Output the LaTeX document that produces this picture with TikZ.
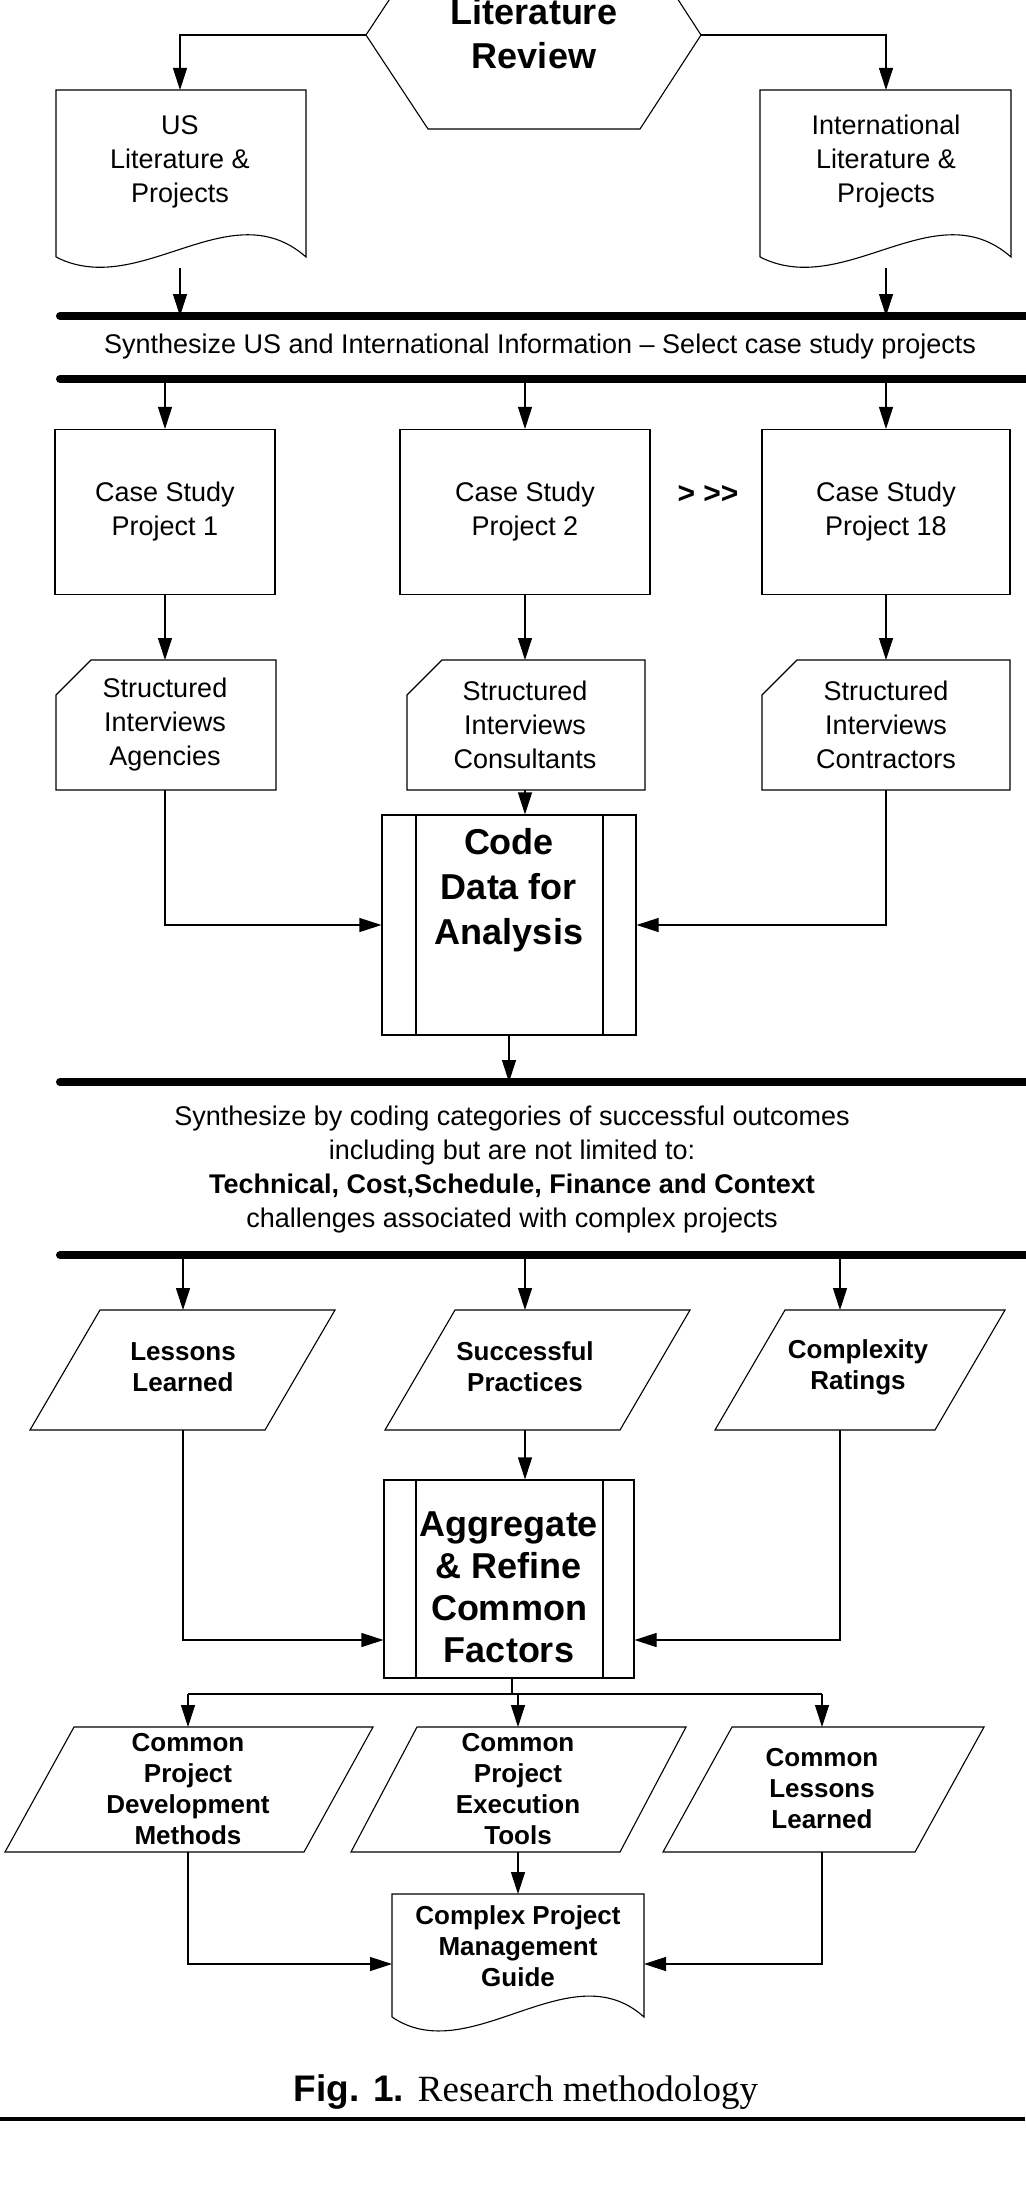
\documentclass[tikz,border=0pt]{standalone}
\usepackage{fontspec}
\setmainfont{Liberation Sans}
\newfontfamily\capserif{Liberation Serif}
\usetikzlibrary{arrows.meta}
\begin{document}
\begin{tikzpicture}[x=1pt,y=-1pt,
  shp/.style={draw,line width=1.1pt,fill=white},
  arr/.style={line width=1.1pt,-{Triangle[length=22pt,width=14pt]}},
  ln/.style={line width=1.1pt},
  bar/.style={line width=8pt,line cap=round},
  txt/.style={align=center,font=\fontsize{27}{34}\selectfont,inner sep=0},
  btxt/.style={align=center,font=\fontsize{26}{31}\selectfont\bfseries,inner sep=0},
  big/.style={align=center,font=\fontsize{36}{45}\selectfont\bfseries,inner sep=0}]
\useasboundingbox (0,0) rectangle (1025,2186);
\fill[white] (0,0) rectangle (1025,2186);
% hexagon
\begin{scope}
\clip (0,0) rectangle (1025,2186);
\draw[shp] (428,-59)--(640,-59)--(701,35)--(640,129)--(428,129)--(366,35)--cycle;
\end{scope}
\coordinate (hexL) at (366,35); \coordinate (hexR) at (701,35);
\node[big] (lit) at (534,12) {Literature};
\node[big] (rev) at (534,56) {Review};
% documents
\draw[shp] (56,257)--(56,90)--(306,90)--(306,257) .. controls (230,190) and (140,300) .. (56,257);
\draw[shp] (760,257)--(760,90)--(1011,90)--(1011,257) .. controls (935,190) and (845,300) .. (760,257);
\coordinate (usT) at (180,90); \coordinate (usB) at (180,268);
\coordinate (inT) at (886,90); \coordinate (inB) at (886,268);
\node[txt] (us) at (180,162) {US\\Literature \&\\Projects};
\node[txt] (int) at (886,162) {International\\Literature \&\\Projects};
\draw[arr] (hexL) -| (usT);
\draw[arr] (hexR) -| (inT);
% bars
\draw[bar] (60,316) -- (1030,316);
\draw[bar] (60,379) -- (1030,379);
\coordinate (b1a) at (180,316); \coordinate (b1b) at (886,316);
\draw[arr] (usB) -- (b1a);
\draw[arr] (inB) -- (b1b);
\node[txt] (syn) at (540,347) {Synthesize US and International Information -- Select case study projects};
% case study boxes
\node[shp,minimum width=220pt,minimum height=165pt,txt] (c1) at (165,512) {Case Study\\Project 1};
\node[shp,minimum width=250pt,minimum height=165pt,txt] (c2) at (525,512) {Case Study\\Project 2};
\node[shp,minimum width=248pt,minimum height=165pt,txt] (c3) at (886,512) {Case Study\\Project 18};
\node[font=\fontsize{30}{34}\selectfont\bfseries,inner sep=0] (gg) at (708,494) {{>} {>}{>}};
\draw[arr] (165,379) -- (c1.north);
\draw[arr] (525,379) -- (c2.north);
\draw[arr] (886,379) -- (c3.north);
% cards
\draw[shp] (91,660)--(276,660)--(276,790)--(56,790)--(56,695)--cycle;
\draw[shp] (442,660)--(645,660)--(645,790)--(407,790)--(407,695)--cycle;
\draw[shp] (797,660)--(1010,660)--(1010,790)--(762,790)--(762,695)--cycle;
\coordinate (s1T) at (165,660); \coordinate (s1B) at (165,790);
\coordinate (s2T) at (525,660); \coordinate (s2B) at (525,790);
\coordinate (s3T) at (886,660); \coordinate (s3B) at (886,790);
\node[txt] (s1) at (165,725) {Structured\\Interviews\\Agencies};
\node[txt] (s2) at (525,725) {Structured\\Interviews\\Consultants};
\node[txt] (s3) at (886,725) {Structured\\Interviews\\Contractors};
\draw[arr] (c1.south) -- (s1T);
\draw[arr] (c2.south) -- (s2T);
\draw[arr] (c3.south) -- (s3T);
% code data
\node[shp,minimum width=254pt,minimum height=220pt] (cd) at (509,925) {};
\draw[ln] (416,815)--(416,1035) (603,815)--(603,1035);
\node[big] (cdt) at (509,890) {Code\\Data for\\Analysis};
\draw[arr] (s2B) -- (cd.north -| s2B);
\draw[arr] (s1B) |- (cd.west);
\draw[arr] (s3B) |- (cd.east);
% bars 2
\draw[bar] (60,1082) -- (1030,1082);
\draw[bar] (60,1255) -- (1030,1255);
\draw[arr] (cd.south) -- (509,1082);
\node[txt] (syn2) at (512,1170) {Synthesize by coding categories of successful outcomes\\including but are not limited to:\\\textbf{Technical, Cost,Schedule, Finance and Context}\\challenges associated with complex projects};
% parallelograms 1
\draw[shp] (100,1310)--(335,1310)--(265,1430)--(30,1430)--cycle;
\draw[shp] (455,1310)--(690,1310)--(620,1430)--(385,1430)--cycle;
\draw[shp] (785,1310)--(1005,1310)--(935,1430)--(715,1430)--cycle;
\coordinate (p1T) at (183,1310); \coordinate (p1B) at (183,1430);
\coordinate (p2T) at (525,1310); \coordinate (p2B) at (525,1430);
\coordinate (p3T) at (840,1310); \coordinate (p3B) at (840,1430);
\node[btxt] (p1) at (183,1367) {Lessons\\Learned};
\node[btxt] (p2) at (525,1367) {Successful\\Practices};
\node[btxt] (p3) at (858,1367) {Complexity\\Ratings};
\draw[arr] (183,1255) -- (p1T);
\draw[arr] (525,1255) -- (p2T);
\draw[arr] (840,1255) -- (p3T);
% aggregate
\node[shp,minimum width=250pt,minimum height=198pt] (ag) at (509,1579) {};
\draw[ln] (416,1480)--(416,1678) (603,1480)--(603,1678);
\node[big,font=\fontsize{36}{42}\selectfont\bfseries] (agt) at (509,1587) {Aggregate\\\& Refine\\Common\\Factors};
\draw[arr] (p2B) -- (ag.north -| p2B);
\draw[arr] (p1B) |- (ag.west |- 0,1640);
\draw[arr] (p3B) |- (ag.east |- 0,1640);
% branch
\coordinate (br) at (512,1694);
\draw[ln] (ag.south -| br) -- (br);
\draw[ln] (188,1694) -- (822,1694);
\draw[arr] (188,1694) -- (188,1727);
\draw[arr] (518,1694) -- (518,1727);
\draw[arr] (822,1694) -- (822,1727);
% parallelograms 2
\draw[shp] (74,1727)--(373,1727)--(304,1852)--(5,1852)--cycle;
\draw[shp] (417,1727)--(686,1727)--(620,1852)--(351,1852)--cycle;
\draw[shp] (732,1727)--(984,1727)--(915,1852)--(663,1852)--cycle;
\node[btxt] (q1) at (188,1789) {Common\\Project\\Development\\Methods};
\node[btxt] (q2) at (518,1789) {Common\\Project\\Execution\\Tools};
\node[btxt] (q3) at (822,1789) {Common\\Lessons\\Learned};
\coordinate (q1B) at (188,1852); \coordinate (q2B) at (518,1852); \coordinate (q3B) at (822,1852);
% guide
\draw[shp] (392,2017)--(392,1894)--(644,1894)--(644,2017) .. controls (570,1950) and (470,2070) .. (392,2017);
\coordinate (gT) at (518,1894); \coordinate (gL) at (392,1964); \coordinate (gR) at (644,1964);
\node[btxt] (g) at (518,1946) {Complex Project\\Management\\Guide};
\draw[arr] (q2B) -- (gT);
\draw[arr] (q1B) |- (gL);
\draw[arr] (q3B) |- (gR);
% caption
\node[inner sep=0,font=\fontsize{37}{40}\selectfont] (cap) at (526,2092) {\textbf{Fig. 1.} {\capserif Research methodology}};
\draw[line width=4pt] (0,2119) -- (1025,2119);
\end{tikzpicture}
\end{document}
